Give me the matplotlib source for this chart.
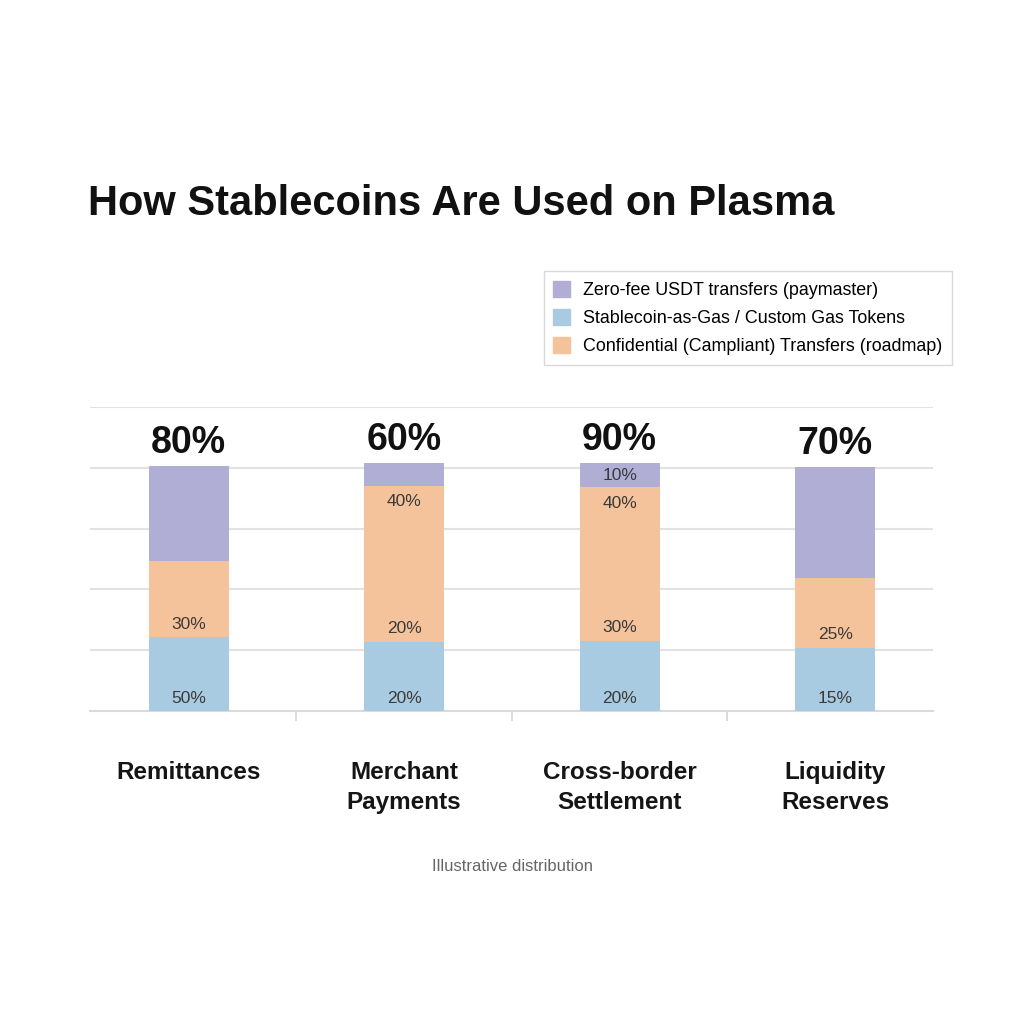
import matplotlib.pyplot as plt
from matplotlib.patches import Patch

# categories and segment heights (as drawn in the picture)
categories = ["Remittances", "Merchant\nPayments", "Cross-border\nSettlement", "Liquidity\nReserves"]
gas_heights = [24.3, 22.7, 23.0, 20.7]        # blue, bottom
confidential_heights = [25.0, 51.3, 50.6, 23.0]  # orange, middle
zero_fee_heights = [31.3, 7.6, 7.9, 36.7]      # purple, top

# labels printed on the bars
gas_labels = ["50%", "20%", "20%", "15%"]
confidential_low_labels = ["30%", "20%", "30%", "25%"]
confidential_high_labels = ["", "40%", "40%", ""]
zero_fee_labels = ["", "", "10%", ""]
total_labels = ["80%", "60%", "90%", "70%"]

legend_names = ["Zero-fee USDT transfers (paymaster)",
                "Stablecoin-as-Gas / Custom Gas Tokens",
                "Confidential (Campliant) Transfers (roadmap)"]

c_purple = "#b1aed6"
c_blue = "#a9cbe1"
c_orange = "#f5c39b"

plt.rcParams['font.family'] = ['Liberation Sans', 'DejaVu Sans']

fig = plt.figure(figsize=(10.24, 10.24), dpi=100)
ax = fig.add_axes([0.0879, 0.3057, 0.823, 0.2969])

x = list(range(len(categories)))
w = 0.37
ax.bar(x, gas_heights, w, color=c_blue, zorder=3)
bot2 = gas_heights
ax.bar(x, confidential_heights, w, bottom=bot2, color=c_orange, zorder=3)
bot3 = [a + b for a, b in zip(gas_heights, confidential_heights)]
ax.bar(x, zero_fee_heights, w, bottom=bot3, color=c_purple, zorder=3)

for i in x:
    ax.text(i, 4.0, gas_labels[i], ha='center', va='center', fontsize=12.5, color='#3a3a3a', zorder=4)
    ax.text(i, bot2[i] + 4.3, confidential_low_labels[i], ha='center', va='center',
            fontsize=12.5, color='#3a3a3a', zorder=4)
    if confidential_high_labels[i]:
        ax.text(i, bot3[i] - 5.2, confidential_high_labels[i], ha='center', va='center',
                fontsize=12.5, color='#3a3a3a', zorder=4)
    if zero_fee_labels[i]:
        ax.text(i, bot3[i] + zero_fee_heights[i] / 2, zero_fee_labels[i], ha='center', va='center',
                fontsize=12.5, color='#3a3a3a', zorder=4)
    top = bot3[i] + zero_fee_heights[i]
    ax.text(i, top + 1.6, total_labels[i], ha='center', va='bottom',
            fontsize=27, fontweight='bold', color='#111111', zorder=4)

ax.set_xlim(-0.458, 3.453)
ax.set_ylim(0, 100)
ax.set_yticks([20, 40, 60, 80, 100])
ax.yaxis.grid(True, color='#e2e2e2', linewidth=1.5, zorder=0)
ax.tick_params(axis='y', length=0, labelleft=False)
ax.set_xticks(x)
ax.set_xticklabels(categories, fontsize=17.5, fontweight='bold', color='#151515', linespacing=1.4)
ax.tick_params(axis='x', length=0, pad=36)
ax.set_xticks([0.5, 1.5, 2.5], minor=True)
ax.tick_params(axis='x', which='minor', length=7, color='#d5d5d5', width=1.2)
for s in ['top', 'right', 'left']:
    ax.spines[s].set_visible(False)
ax.spines['bottom'].set_color('#dadada')
ax.spines['bottom'].set_linewidth(1.5)

handles = [Patch(color=c_purple), Patch(color=c_blue), Patch(color=c_orange)]
fig.legend(handles, legend_names, loc='upper right', bbox_to_anchor=(0.9385, 0.7441),
           fontsize=12.9, frameon=True, fancybox=False, edgecolor='#d0d0d0',
           handlelength=0.95, handleheight=1.0, handletextpad=0.7, labelspacing=0.55,
           borderpad=0.55)

fig.text(0.086, 0.801, "How Stablecoins Are Used on Plasma", fontsize=30,
         fontweight='bold', color='#111111', va='center', ha='left')
fig.text(0.5, 0.154, "Illustrative distribution", fontsize=12, color='#666666',
         ha='center', va='center')

fig.savefig("out.png", dpi=100, facecolor='white')
